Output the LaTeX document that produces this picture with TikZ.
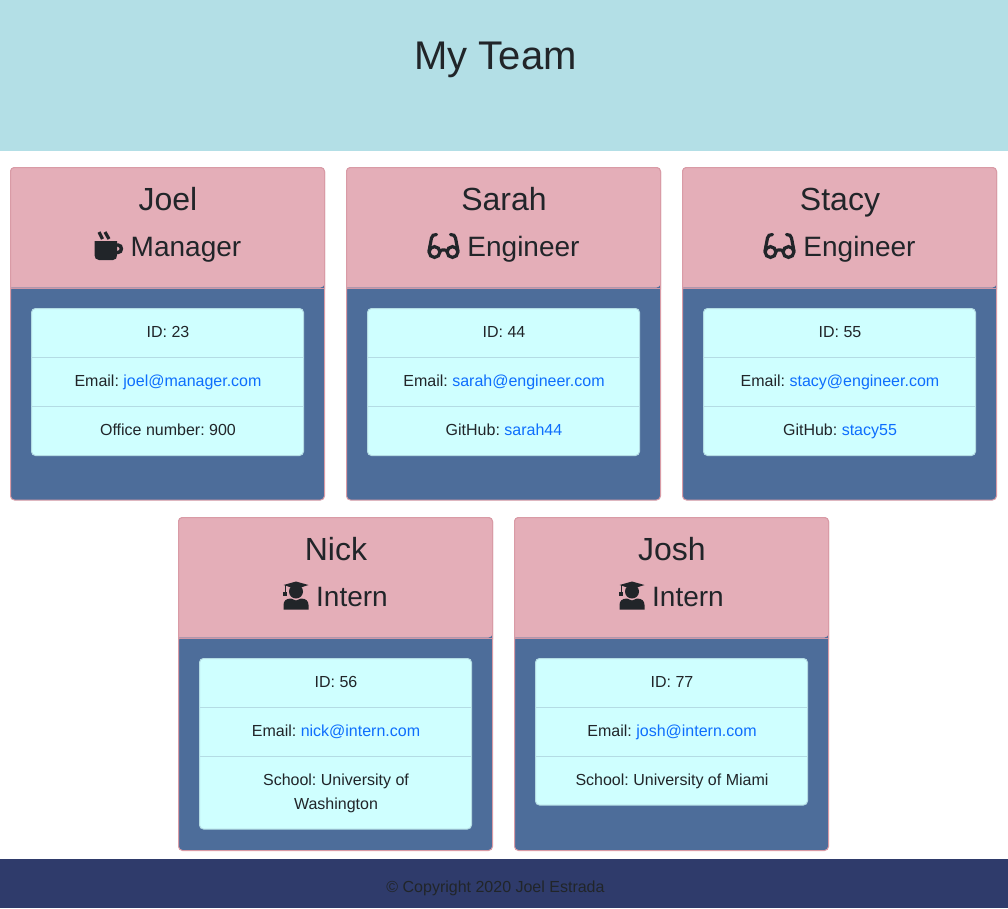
\documentclass[tikz,border=0pt]{standalone}
\usepackage{fontspec}
\setmainfont{Liberation Sans}
\definecolor{jumbo}{HTML}{B3DFE6}
\definecolor{pinkh}{HTML}{E4AEB8}
\definecolor{pinkb}{HTML}{D99BA6}
\definecolor{pinkl}{HTML}{CE97A6}
\definecolor{bodyb}{HTML}{4D6D9A}
\definecolor{listb}{HTML}{CFFFFF}
\definecolor{lineb}{HTML}{B4DCE4}
\definecolor{foot}{HTML}{2F3B6B}
\definecolor{ink}{HTML}{212529}
\definecolor{linkc}{HTML}{0D6EFD}
\newcommand{\lnk}[1]{\textcolor{linkc}{#1}}
\AtBeginDocument{\frenchspacing}
\tikzset{
  x=0.75pt,y=-0.75pt,
  band/.style={fill=#1,draw=none},
  cardbody/.style={fill=bodyb,draw=pinkb,line width=0.75pt,rounded corners=3pt},
  cardhead/.style={fill=pinkh,draw=none,rounded corners=3pt},
  cardedge/.style={draw=pinkb,line width=0.75pt,rounded corners=3pt},
  headline/.style={draw=pinkl,line width=0.75pt},
  listbox/.style={fill=listb,draw=lineb,line width=0.75pt,rounded corners=3pt},
  divider/.style={draw=lineb,line width=0.75pt},
  nametext/.style={anchor=base,text=ink,font=\fontsize{24}{28}\selectfont,inner sep=0pt},
  roletext/.style={anchor=base,text=ink,font=\fontsize{21}{25}\selectfont,inner sep=0pt},
  itemtext/.style={anchor=base,text=ink,font=\fontsize{12}{18}\selectfont,inner sep=0pt,align=center},
  iconfill/.style={fill=ink,draw=none},
  iconline/.style={draw=ink,fill=none,line width=2.4pt,line cap=round},
}
% #1 name prefix #2 left x #3 top y #4 bottom y #5 list bottom y
\newcommand{\cardframe}[5]{%
  \path[cardbody] (#2,#3) rectangle (#2+314,#4);
  \path[cardhead] (#2,#3+120) -- (#2,#3) -- (#2+314,#3) -- (#2+314,#3+120) [sharp corners] -- cycle;
  \path[cardedge] (#2,#3+122) -- (#2,#3) -- (#2+314,#3) -- (#2+314,#3+122);
  \path[headline] (#2+0.5,#3+120.5) -- (#2+313.5,#3+120.5);
  \path[listbox] (#2+21,#3+141) rectangle (#2+293,#5);
  \path[divider] (#2+21,#3+190) -- (#2+293,#3+190);
  \path[divider] (#2+21,#3+239) -- (#2+293,#3+239);
}
% #1 x offset, #2 y offset
\newcommand{\iconcoffee}[2]{\begin{scope}[shift={(#1,#2)}]
  \path[iconfill] (94.5,241) -- (117,241) -- (117,255) .. controls (117,258) and (116,260) .. (113,260) -- (99,260) .. controls (96,260) and (94.5,258) .. (94.5,255) -- cycle;
  \path[draw=ink,fill=none,line width=2.6pt] (116,245) -- (118,245) .. controls (122.5,245) and (122.5,252.5) .. (118,252.5) -- (116,252.5);
  \path[draw=ink,line width=2.4pt] (99,232) -- (102.5,239);
  \path[draw=ink,line width=2.4pt] (105,232) -- (109,239);
\end{scope}}
\newcommand{\iconglasses}[2]{\begin{scope}[shift={(#1,#2)}]
  \path[iconline] (434.5,252) circle [radius=5.4];
  \path[iconline] (452.5,252) circle [radius=5.4];
  \path[iconline] (440,251) .. controls (441.5,249.5) and (445.5,249.5) .. (447,251);
  \path[iconline] (429,251) -- (431.5,238) .. controls (432,235.5) and (433.5,234.5) .. (436.5,234.5);
  \path[iconline] (458,251) -- (455.5,238) .. controls (455,235.5) and (453.5,234.5) .. (450.5,234.5);
\end{scope}}
\newcommand{\icongrad}[2]{\begin{scope}[shift={(#1,#2)}]
  \path[iconfill] (283.5,585) -- (296,581.5) -- (308.5,585) -- (296,589) -- cycle;
  \path[iconfill] (296,591.5) circle [radius=7];
  \path[iconfill] (283.5,609.5) -- (283.5,605) .. controls (283.5,601) and (286,598.5) .. (291,598.5) -- (296,600.5) -- (301,598.5) .. controls (306,598.5) and (308.5,601) .. (308.5,605) -- (308.5,609.5) -- cycle;
  \path[iconfill] (284.5,585) rectangle (286.2,592);
  \path[iconfill] (283.4,592) rectangle (287.2,596);
\end{scope}}
\begin{document}
\begin{tikzpicture}
\useasboundingbox (0,0) rectangle (1008,908);
\path[fill=white] (0,0) rectangle (1008,908);
\path[band=jumbo] (0,0) rectangle (1008,151);
\path[band=foot] (0,859) rectangle (1008,908);
\node[anchor=base,text=ink,font=\fontsize{30}{36}\selectfont,inner sep=0pt] (title) at (495.5,69) {My Team};
\node[anchor=base,text=ink,font=\fontsize{12}{18}\selectfont,inner sep=0pt] (footer) at (495.5,892) {© Copyright 2020 Joel Estrada};

\cardframe{joel}{10.5}{167.5}{500}{455.5}
\cardframe{sarah}{346.5}{167.5}{500}{455.5}
\cardframe{stacy}{682.5}{167.5}{500}{455.5}
\cardframe{nick}{178.5}{517.5}{850.5}{829}
\cardframe{josh}{514.5}{517.5}{850.5}{805}

\iconcoffee{0}{0}
\iconglasses{0}{0}
\iconglasses{336}{0}
\icongrad{0}{0}
\icongrad{336}{0}

\node[nametext] (joelname) at (168,210) {Joel};
\node[roletext] (joelrole) at (186,256) {Manager};
\node[itemtext] (joelid) at (168,337.5) {ID: 23};
\node[itemtext] (joelmail) at (168,386.5) {Email: \lnk{joel@manager.com}};
\node[itemtext] (joeloff) at (168,435.5) {Office number: 900};

\node[nametext] (sarahname) at (504,210) {Sarah};
\node[roletext] (sarahrole) at (523.5,256) {Engineer};
\node[itemtext] (sarahid) at (504,337.5) {ID: 44};
\node[itemtext] (sarahmail) at (504,386.5) {Email: \lnk{sarah@engineer.com}};
\node[itemtext] (sarahgit) at (504,435.5) {GitHub: \lnk{sarah44}};

\node[nametext] (stacyname) at (840,210) {Stacy};
\node[roletext] (stacyrole) at (859.5,256) {Engineer};
\node[itemtext] (stacyid) at (840,337.5) {ID: 55};
\node[itemtext] (stacymail) at (840,386.5) {Email: \lnk{stacy@engineer.com}};
\node[itemtext] (stacygit) at (840,435.5) {GitHub: \lnk{stacy55}};

\node[nametext] (nickname) at (336,560) {Nick};
\node[roletext] (nickrole) at (352,606) {Intern};
\node[itemtext] (nickid) at (336,687.5) {ID: 56};
\node[itemtext] (nickmail) at (336,736.5) {Email: \lnk{nick@intern.com}};
\node[itemtext] (nickschool) at (336,785.5) {School: University of};
\node[itemtext] (nickschooltwo) at (336,809.5) {Washington};

\node[nametext] (joshname) at (672,560) {Josh};
\node[roletext] (joshrole) at (688,606) {Intern};
\node[itemtext] (joshid) at (672,687.5) {ID: 77};
\node[itemtext] (joshmail) at (672,736.5) {Email: \lnk{josh@intern.com}};
\node[itemtext] (joshschool) at (672,785.5) {School: University of Miami};
\end{tikzpicture}
\end{document}
